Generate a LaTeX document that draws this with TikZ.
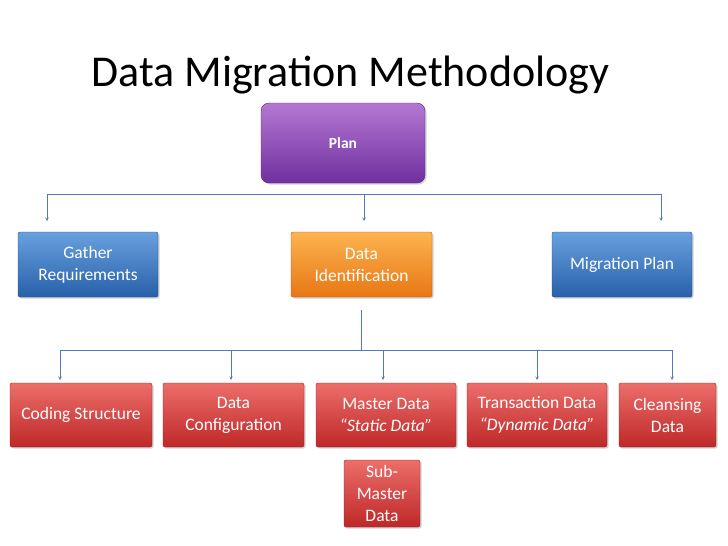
\documentclass[tikz,border=0pt]{standalone}
\usepackage{fontspec}
\setmainfont{Carlito}
\usetikzlibrary{shadows}
\definecolor{bluetop}{RGB}{104,160,222}
\definecolor{bluebot}{RGB}{40,96,170}
\definecolor{redtop}{RGB}{236,110,106}
\definecolor{redbot}{RGB}{190,40,40}
\definecolor{orgtop}{RGB}{252,180,80}
\definecolor{orgbot}{RGB}{232,118,20}
\definecolor{purtop}{RGB}{180,120,210}
\definecolor{purbot}{RGB}{112,48,160}
\definecolor{linecol}{RGB}{80,120,190}
\tikzset{
  box/.style={rounded corners=2pt, align=center, text=white, font=\fontsize{17.5pt}{22pt}\selectfont,
    drop shadow={shadow xshift=1.5pt,shadow yshift=-1.5pt,opacity=0.35}, inner sep=0pt},
  bluebox/.style={box, top color=bluetop, bottom color=bluebot, draw=bluebot!80!black},
  redbox/.style={box, top color=redtop, bottom color=redbot, draw=redbot!80!black},
  orgbox/.style={box, top color=orgtop, bottom color=orgbot, draw=orgbot!80!black},
  purbox/.style={box, top color=purtop, bottom color=purbot, draw=purbot!80!black, rounded corners=8pt},
  link/.style={draw=linecol, line width=0.6pt},
  arr/.style={link, -stealth}
}
\begin{document}
\begin{tikzpicture}[x=1pt,y=-1pt]
\useasboundingbox (0,0) rectangle (728,546);
\node[anchor=west, font=\fontsize{44pt}{48pt}\selectfont] (title) at (88,75) {Data Migration Methodology};
% top level
\node[purbox, minimum width=164, minimum height=80, font=\fontsize{15.5pt}{18pt}\selectfont\bfseries] (plan) at (343,143) {Plan};
\node[bluebox, minimum width=140, minimum height=65] (gather) at (88,264.5) {Gather\\Requirements};
\node[orgbox, minimum width=141, minimum height=65] (ident) at (361.5,264.5) {Data\\Identification};
\node[bluebox, minimum width=140, minimum height=65] (mplan) at (622,264.5) {Migration Plan};
% second level
\node[redbox, minimum width=142, minimum height=64] (coding) at (81,415) {Coding Structure};
\node[redbox, minimum width=141, minimum height=64] (config) at (233.5,415) {Data\\Configuration};
\node[redbox, minimum width=140, minimum height=64] (master) at (386,415) {Master Data\\\textit{“Static Data”}};
\node[redbox, minimum width=140, minimum height=64] (trans) at (537,415) {Transaction Data\\\textit{“Dynamic Data”}};
\node[redbox, minimum width=97, minimum height=64] (cleanse) at (667.5,415) {Cleansing\\Data};
\node[redbox, minimum width=76, minimum height=67] (sub) at (382,493.5) {Sub-\\Master\\Data};
% connectors
\draw[link] (47,194) -- (661,194);
\foreach \x/\n in {47/gather,364/ident,661/mplan}
  \draw[arr] (\x,194) -- (\x,221);
\draw[link] (ident.south |- 0,310) -- (ident.south |- 0,350);
\draw[link] (60,350) -- (672,350);
\foreach \x in {60,231,383,537,672}
  \draw[arr] (\x,350) -- (\x,380);
\end{tikzpicture}
\end{document}
